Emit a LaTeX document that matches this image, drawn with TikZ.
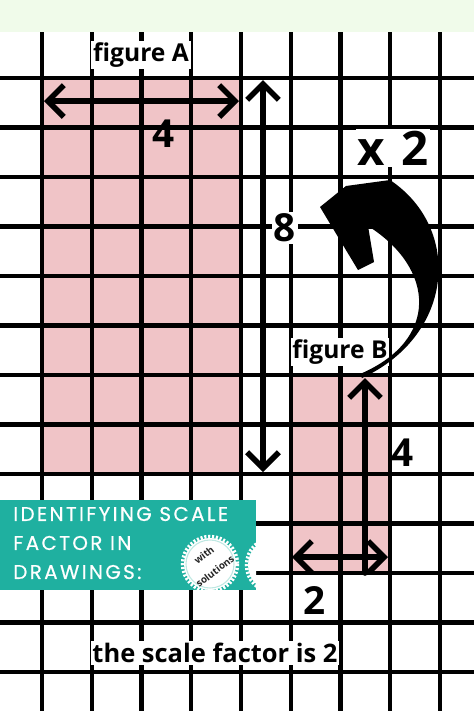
\documentclass[tikz,border=0pt]{standalone}
\usepackage{fontspec}
\setmainfont{Open Sans}
\newfontfamily\bannerfont[LetterSpace=12,FakeBold=0.6]{Poppins}
\usepackage{tikz}
\usetikzlibrary{arrows.meta}
\definecolor{topgreen}{RGB}{240,251,234}
\definecolor{figpink}{RGB}{240,196,199}
\definecolor{bannerteal}{RGB}{31,176,160}
\definecolor{badgering}{RGB}{190,232,226}
\tikzstyle{gridline}=[line width=2.4pt,black]
\tikzstyle{dimarrow}=[line width=3.2pt,line cap=round,line join=round]
\tikzstyle{tag}=[fill=white,inner sep=1pt,font=\bfseries\fontsize{14}{15}\selectfont]
\tikzstyle{size}=[inner sep=1pt,font=\bfseries\fontsize{22}{23}\selectfont]
\tikzstyle{bannertext}=[anchor=west,inner sep=0pt,text=white,font=\bannerfont\fontsize{11.3}{12}\selectfont]
\tikzstyle{badgetext}=[rotate=38,inner sep=0pt,text=black!85,font=\bfseries\fontsize{5.6}{5.6}\selectfont]

\begin{document}
\begin{tikzpicture}[x=0.02cm,y=-0.02cm,
    barb/.tip={Straight Barb[length=9pt,width=18pt]}]
  \fill[white] (0,0) rectangle (474,711);
  \useasboundingbox (0,0) rectangle (474,711);
  \fill[topgreen] (0,0) rectangle (474,32);

  % the two figures
  \fill[figpink] (42,78) rectangle (241,474);
  \fill[figpink] (290.75,375) rectangle (390.25,573);

  % grid
  \foreach \i in {0,...,8}{
    \draw[gridline] (42+49.75*\i,32) -- (42+49.75*\i,711);
  }
  \foreach \j in {0,...,12}{
    \draw[gridline] (0,78+49.5*\j) -- (474,78+49.5*\j);
  }

  % figure A
  \node[tag] (figA) at (141,55) {figure A};
  \coordinate (aL) at (44,101);
  \coordinate (aR) at (239,101);
  \coordinate (aT) at (263,80);
  \coordinate (aB) at (263,472);
  \draw[dimarrow,barb-barb] (aL) -- (aR);
  \draw[dimarrow,barb-barb] (aT) -- (aB);
  \node[size] (wA) at (164,134) {4};
  \node[size,fill=white] (hA) at (285,228) {8};

  % figure B
  \node[tag] (figB) at (340,352) {figure B};
  \coordinate (bL) at (292,557);
  \coordinate (bR) at (388,557);
  \coordinate (bT) at (365,378);
  \coordinate (bB) at (365,573);
  \draw[dimarrow,barb-barb] (bL) -- (bR);
  \draw[dimarrow,-barb] (bB) -- (bT);
  \node[size] (hB) at (403,453) {4};
  \node[size,fill=white] (wB) at (315,600) {2};

  % scale arrow
  \node[fill=white,inner sep=1pt,font=\bfseries\fontsize{27}{28}\selectfont] (times) at (393,148) {x\,\,2};
  \fill (362,378) .. controls (455,335) and (462,228) .. (390,180)
    -- (346,186) -- (320,207) -- (358,270) -- (374,262) -- (368,226)
    .. controls (435,268) and (440,340) .. (360,374) -- cycle;

  % banner
  \fill[bannerteal] (0,500) rectangle (256,590);
  \node[bannertext] (line1) at (13,514) {IDENTIFYING SCALE};
  \node[bannertext] (line2) at (13,543) {FACTOR IN};
  \node[bannertext] (line3) at (13,572) {DRAWINGS:};
  \begin{scope}
    \clip (0,500) rectangle (256,590);
    \fill[white] (274,565) circle (26);
    \draw[white,line width=2pt,dash pattern=on 1.2pt off 1pt] (274,565) circle (27.5);
  \end{scope}
  \fill[white] (210,564) circle (26);
  \draw[white,line width=2pt,dash pattern=on 1.2pt off 1pt] (210,564) circle (27.5);
  \draw[badgering,line width=0.6pt] (210,564) circle (24);
  \node[badgetext] (with) at (204,555) {with};
  \node[badgetext] (sol) at (215,571) {solutions};

  % result
  \node[tag,font=\bfseries\fontsize{14.5}{15}\selectfont] (result) at (215,653) {the scale factor is 2};
\end{tikzpicture}
\end{document}
